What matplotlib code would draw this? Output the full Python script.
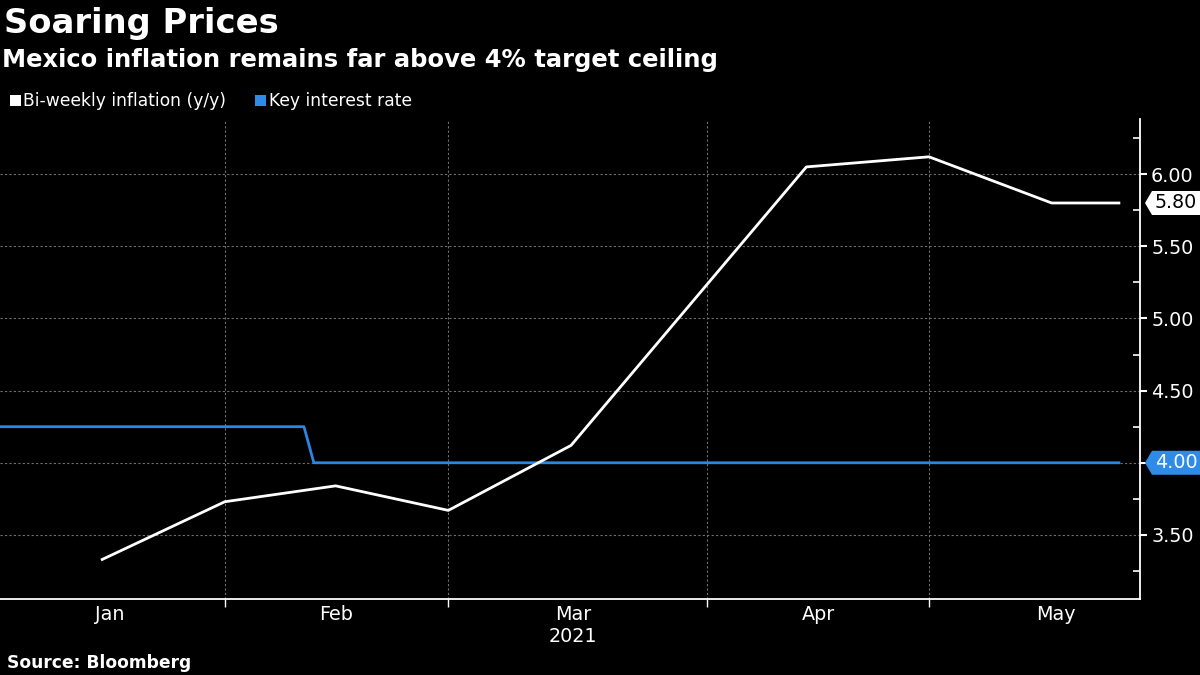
import matplotlib
matplotlib.use("Agg")
import matplotlib.pyplot as plt
from matplotlib.patches import Polygon, Rectangle
from matplotlib.transforms import blended_transform_factory
from datetime import datetime

# ---- data ----
infl_dates = ["2021-01-16T12:00", "2021-02-01T00:00", "2021-02-15T00:00", "2021-03-01T06:00",
              "2021-03-16T18:00", "2021-04-15T12:00", "2021-05-01T00:00", "2021-05-16T12:00",
              "2021-05-25T00:00"]
infl_values = [3.33, 3.73, 3.84, 3.67, 4.12, 6.05, 6.12, 5.80, 5.80]

rate_dates = ["2021-01-01T00:00", "2021-02-11T00:00", "2021-02-12T06:00", "2021-05-25T00:00"]
rate_values = [4.25, 4.25, 4.00, 4.00]

month_bounds = ["2021-02-01T00:00", "2021-03-01T06:00", "2021-04-03T00:00", "2021-05-01T00:00"]
month_label_dates = ["2021-01-17T12:00", "2021-02-15T00:00", "2021-03-17T00:00",
                     "2021-04-17T00:00", "2021-05-17T00:00"]
month_labels = ["Jan", "Feb", "Mar\n2021", "Apr", "May"]
y_ticks = [3.5, 4.0, 4.5, 5.0, 5.5, 6.0]
y_ticklabels = ["3.50", "", "4.50", "5.00", "5.50", "6.00"]
y_minor = [3.25, 3.75, 4.25, 4.75, 5.25, 5.75, 6.25]

title = "Soaring Prices"
subtitle = "Mexico inflation remains far above 4% target ceiling"
legend_labels = ["Bi-weekly inflation (y/y)", "Key interest rate"]
source = "Source: Bloomberg"

WHITE = "#ffffff"
BLUE = "#2a86e0"
TAG_BLUE = "#2e8ce8"
GRID = "#6e6e6e"

def d(s):
    return datetime.fromisoformat(s)

plt.rcParams['font.family'] = ['DejaVu Sans']

fig = plt.figure(figsize=(12, 6.75), dpi=100, facecolor="black")
W, H = 1200, 675
ax = fig.add_axes([0, (H - 599) / H, 1140 / W, (599 - 119) / H], facecolor="black")

ax.plot([d(s) for s in rate_dates], rate_values, color=BLUE, lw=2, zorder=3)
ax.plot([d(s) for s in infl_dates], infl_values, color=WHITE, lw=2, zorder=4)

ax.set_xlim(datetime(2021, 1, 3, 14), datetime(2021, 5, 27, 16))
ax.set_ylim(3.056, 6.382)

# spines
for s in ["top", "left"]:
    ax.spines[s].set_visible(False)
for s in ["bottom", "right"]:
    ax.spines[s].set_color(WHITE)
    ax.spines[s].set_linewidth(1.3)

# y axis on right
ax.yaxis.tick_right()
ax.set_yticks(y_ticks)
ax.set_yticklabels(y_ticklabels)
ax.set_yticks(y_minor, minor=True)
ax.tick_params(axis="y", which="major", colors=WHITE, labelcolor=WHITE, labelsize=13.8,
               length=5, width=1.5, direction="out", pad=3)
ax.tick_params(axis="y", which="minor", colors=WHITE, length=5, width=1.2, direction="in")

# x axis
ax.set_xticks([d(s) for s in month_bounds])
ax.set_xticklabels([])
ax.set_xticks([d(s) for s in month_label_dates], minor=True)
ax.set_xticklabels(month_labels, minor=True)
ax.tick_params(axis="x", which="major", colors=WHITE, length=6, width=1, direction="out")
ax.tick_params(axis="x", which="minor", colors=WHITE, labelcolor=WHITE, length=0,
               labelsize=13.8, pad=4)
for lab in ax.get_xticklabels(minor=True):
    lab.set_linespacing(1.2)

# grid
ax.grid(True, which="major", axis="both", color=GRID, lw=0.8, linestyle=(0, (2, 2)))
ax.set_axisbelow(True)

# value tags
bt = blended_transform_factory(ax.transAxes, ax.transData)
hh = 12 / 144.3
def tag(y, face, tcolor, text):
    x0, x1, x2 = 1145 / 1140, 1152 / 1140, 1205 / 1140
    poly = Polygon([[x0, y], [x1, y + hh], [x2, y + hh], [x2, y - hh], [x1, y - hh]],
                   closed=True, transform=bt, facecolor=face, edgecolor="none",
                   clip_on=False, zorder=6)
    ax.add_patch(poly)
    ax.text(1176 / 1140, y, text, transform=bt, ha="center", va="center",
            color=tcolor, fontsize=13.8, zorder=7, clip_on=False)

tag(infl_values[-1], WHITE, "black", f"{infl_values[-1]:.2f}")
tag(rate_values[-1], TAG_BLUE, WHITE, f"{rate_values[-1]:.2f}")

# titles
fig.text(4 / W, 1 - 24 / H, title, color=WHITE, fontsize=24.3, fontweight="bold",
         va="center", ha="left")
fig.text(2 / W, 1 - 60 / H, subtitle, color=WHITE, fontsize=17.5, fontweight="bold",
         va="center", ha="left")

# legend
fig.patches.append(Rectangle((10 / W, 1 - 106 / H), 11 / W, 11 / H, transform=fig.transFigure,
                             facecolor=WHITE, edgecolor="none"))
fig.text(23 / W, 1 - 101 / H, legend_labels[0], color=WHITE, fontsize=12.3, va="center", ha="left")
fig.patches.append(Rectangle((255 / W, 1 - 106 / H), 11 / W, 11 / H, transform=fig.transFigure,
                             facecolor=TAG_BLUE, edgecolor="none"))
fig.text(269 / W, 1 - 101 / H, legend_labels[1], color=WHITE, fontsize=12.3, va="center", ha="left")

fig.text(7 / W, 1 - 663 / H, source, color=WHITE, fontsize=12.3, fontweight="bold",
         va="center", ha="left")

fig.savefig("out.png", dpi=100, facecolor="black")
